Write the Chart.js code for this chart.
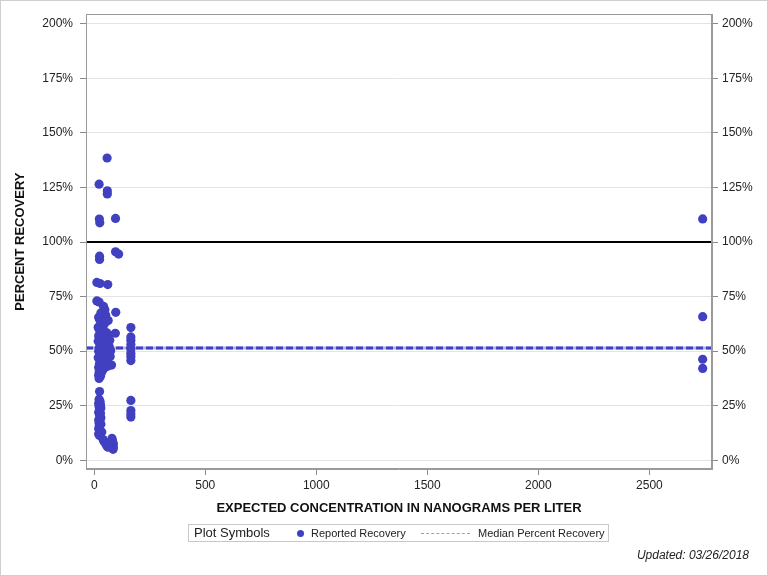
<!DOCTYPE html>
<html>
<head>
<meta charset="utf-8">
<script src="https://cdn.jsdelivr.net/npm/chart.js@4"></script>
<style>
  body { margin: 0; background: #fff; font-family: "Liberation Sans", Arial, sans-serif; }
  #wrap { position: relative; width: 768px; height: 576px; }
  #frame { position: absolute; left: 0; top: 0; width: 766px; height: 574px; border: 1px solid #cfcfcf; pointer-events: none; }
  #legend { position: absolute; left: 188px; top: 524px; width: 419px; height: 16px; border: 1px solid #c8c8c8; }
  #legend span { position: absolute; top: 0; line-height: 16px; white-space: nowrap; color: #222; }
  .dot { position: absolute; left: 108px; top: 5px; width: 7px; height: 7px; border-radius: 50%; background: #4040c0; }
  .dash { position: absolute; left: 232px; top: 8px; width: 49px; border-top: 1px dashed #9a9ae0; }
  #updated { position: absolute; right: 19px; top: 548px; font-size: 12px; font-style: italic; color: #222; }
</style>
</head>
<body>
<div id="wrap">
  <canvas id="myChart" width="768" height="576"></canvas>
  <div id="legend">
    <span style="left:5px;font-size:13px;">Plot Symbols</span>
    <div class="dot"></div>
    <span style="left:122px;font-size:11px;">Reported Recovery</span>
    <div class="dash"></div>
    <span style="left:289px;font-size:11px;">Median Percent Recovery</span>
  </div>
  <div id="updated">Updated: 03/26/2018</div>
  <div id="frame"></div>
</div>
<script>
const ctx = document.getElementById('myChart');

// tick labels
const xTicks = [0, 500, 1000, 1500, 2000, 2500];
const yTicks = [0, 25, 50, 75, 100, 125, 150, 175, 200];

// expected concentration (ng/L) and percent recovery
const concentration = [
  58, 22, 59, 59, 23, 25, 96, 96, 110, 24, 24, 12, 26, 61, 12, 22, 97, 95,
  42, 48, 30, 52, 20, 24, 63, 36, 46, 18,
  22, 30, 40, 55, 64, 20, 28, 38, 48, 70, 18, 26, 36, 46, 58, 68, 22, 32, 44, 54, 74,
  20, 30, 40, 52, 62, 72, 18, 28, 38, 48, 60, 24, 34, 46, 58, 78, 20, 30, 40, 22, 32, 20, 28, 22,
  24, 22, 26, 20, 28, 22, 30, 24, 20, 28, 24, 30, 20, 26, 22, 30, 24, 20, 34, 20, 24,
  40, 44, 52, 58, 62, 80, 82, 84, 86, 84, 86, 85,
  165, 165, 165, 165, 165, 165, 165, 165, 165, 165, 165, 165,
  2740, 2740, 2740, 2740
];
const recovery = [
  138.5, 126.5, 123.5, 122, 110.5, 108.8, 110.8, 95.5, 94.5, 93.5, 92, 81.5, 81, 80.5, 73, 72.5, 67.8, 58.2,
  70.5, 69, 67.5, 66.5, 65.5, 64.5, 64, 63.5, 62.5, 61,
  60, 59.5, 59, 58.5, 57.5, 57, 56.5, 56, 55.5, 55, 54.5, 54, 53.5, 53, 52.5, 52, 51.5, 51, 50.8, 50.5, 50.2,
  50, 49.5, 49, 48.5, 48, 47.5, 47, 46.5, 46, 45.5, 45, 44.5, 44, 43.5, 43, 43.6, 42.5, 42, 41.5, 40.5, 40, 39, 38.5, 37.5,
  31.5, 28, 27, 26, 25.5, 24.5, 24, 23, 22, 21.5, 20.5, 19.5, 18.5, 18, 17, 16.5, 15.5, 14.5, 13, 12, 11.4,
  9.5, 8.6, 7.5, 6.4, 6, 10, 9, 8.2, 7.4, 6.5, 5.8, 5,
  60.8, 56.5, 55, 53, 51, 49, 47.5, 45.7, 27.4, 22.8, 21.2, 19.8,
  110.6, 65.8, 46.3, 42.1
];

const medianRecovery = 51.5;
const targetRecovery = 100;
const xRange = [-37, 2782];
const yRange = [-4, 204.4];

const points = concentration.map((c, i) => ({ x: c, y: recovery[i] }));
const acrossPlot = v => [{ x: xRange[0], y: v }, { x: xRange[1], y: v }];

const font = { family: '"Liberation Sans", Arial, sans-serif', size: 12 };
const titleFont = { family: '"Liberation Sans", Arial, sans-serif', size: 13, weight: 'bold' };

// grey box round the plot area
const frameBox = {
  id: 'frameBox',
  afterDraw(chart) {
    const a = chart.chartArea, c = chart.ctx;
    c.save();
    c.strokeStyle = '#9a9a9a';
    c.lineWidth = 1;
    c.strokeRect(Math.round(a.left) + 0.5, Math.round(a.top) + 0.5, Math.round(a.right - a.left) - 1, Math.round(a.bottom - a.top) - 1);
    c.restore();
  }
};

const yTickCallback = v => v + '%';

let cc = new Chart(ctx, {
  type: 'scatter',
  data: {
    datasets: [
      {
        label: 'Reported Recovery',
        data: points,
        backgroundColor: '#4040c0',
        borderWidth: 0,
        pointRadius: 4.6,
        pointHoverRadius: 4.6,
        order: 1
      },
      {
        type: 'line',
        label: 'Median gap',
        data: acrossPlot(medianRecovery),
        borderColor: '#b4b4dc',
        borderWidth: 3,
        pointRadius: 0,
        order: 3
      },
      {
        type: 'line',
        label: 'Median Percent Recovery',
        data: acrossPlot(medianRecovery),
        borderColor: '#4040c8',
        borderWidth: 3,
        borderDash: [7, 3],
        pointRadius: 0,
        order: 2
      },
      {
        type: 'line',
        label: '100%',
        data: acrossPlot(targetRecovery),
        borderColor: '#000',
        borderWidth: 2,
        pointRadius: 0,
        order: 4
      }
    ]
  },
  options: {
    responsive: false,
    animation: false,
    events: [],
    layout: { padding: { top: 13, left: 0, right: 0, bottom: 0 } },
    scales: {
      x: {
        type: 'linear',
        position: 'bottom',
        min: xRange[0],
        max: xRange[1],
        afterBuildTicks: s => { s.ticks = xTicks.map(v => ({ value: v })); },
        afterFit: s => { s.height = 107; },
        grid: { drawOnChartArea: false, tickLength: 6, tickColor: '#8a8a8a' },
        border: { color: '#9a9a9a' },
        ticks: { font, color: '#222', padding: 3, maxRotation: 0, callback: v => String(v) },
        title: {
          display: true,
          text: 'EXPECTED CONCENTRATION IN NANOGRAMS PER LITER',
          font: titleFont,
          color: '#111',
          padding: { top: 0, bottom: 60 }
        }
      },
      y: {
        type: 'linear',
        position: 'left',
        min: yRange[0],
        max: yRange[1],
        afterBuildTicks: s => { s.ticks = yTicks.map(v => ({ value: v })); },
        afterFit: s => { s.width = 86; },
        grid: { color: '#e3e3e3', tickLength: 6, tickColor: '#8a8a8a' },
        border: { color: '#9a9a9a' },
        ticks: { font, color: '#222', padding: 7, callback: yTickCallback },
        title: {
          display: true,
          text: 'PERCENT RECOVERY',
          font: titleFont,
          color: '#111',
          padding: { top: 13, bottom: 0 }
        }
      },
      y2: {
        type: 'linear',
        position: 'right',
        min: yRange[0],
        max: yRange[1],
        afterBuildTicks: s => { s.ticks = yTicks.map(v => ({ value: v })); },
        afterFit: s => { s.width = 56; },
        grid: { drawOnChartArea: false, tickLength: 6, tickColor: '#8a8a8a' },
        border: { color: '#9a9a9a' },
        ticks: { font, color: '#222', padding: 4, callback: yTickCallback }
      }
    },
    plugins: {
      legend: { display: false },
      tooltip: { enabled: false }
    }
  },
  plugins: [frameBox]
});
</script>
</body>
</html>
